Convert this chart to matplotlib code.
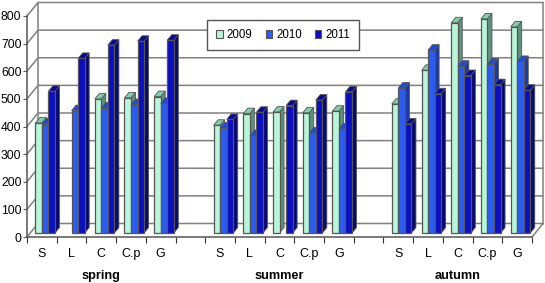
import matplotlib
matplotlib.use('Agg')
import matplotlib.pyplot as plt
from matplotlib.patches import Patch, Polygon

plt.rcParams['font.family'] = ['Liberation Sans', 'DejaVu Sans']

seasons = ['spring', 'summer', 'autumn']
sites = ['S', 'L', 'C', 'C.p', 'G']
years = ['2009', '2010', '2011']
yticks = [0, 100, 200, 300, 400, 500, 600, 700, 800]

# 0 means no bar in the original
spring_2009 = [398, 0, 485, 489, 494]
spring_2010 = [395, 443, 453, 465, 469]
spring_2011 = [513, 632, 680, 694, 698]
summer_2009 = [390, 432, 438, 435, 441]
summer_2010 = [380, 353, 0, 362, 377]
summer_2011 = [411, 437, 461, 481, 511]
autumn_2009 = [467, 589, 761, 775, 746]
autumn_2010 = [525, 662, 604, 612, 621]
autumn_2011 = [395, 504, 570, 537, 517]

W, H = 545, 283
X0, X1, Y0, Y8 = 27, 532, 237, 16   # front plane of the axes, in pixels
SLOT = (X1 - X0) / 17.0
UNIT = (Y0 - Y8) / 800.0

FRONT = ['#b9f5d9', '#2a5cf5', '#0a0fc4']
TOP = ['#7fcdaa', '#1f49d8', '#070b92']
SIDE = ['#5f917e', '#1a3aa8', '#060a6e']
EDGE = '#555555'
GRID = '#808080'

fig = plt.figure(figsize=(W / 100, H / 100), dpi=100)
ax = fig.add_axes([X0 / W, (H - Y0) / H, (X1 - X0) / W, (Y0 - Y8) / H])
ax.set_xlim(0, 17)
ax.set_ylim(0, 800)
ax.patch.set_visible(False)


def px_x(p):
    return p / SLOT


def px_y(p):
    return p / UNIT


# walls
wall_dx, wall_dy = px_x(11), px_y(13.5)
for v in yticks:
    ax.plot([0, wall_dx, 17 + wall_dx], [v, v + wall_dy, v + wall_dy],
            color=GRID, lw=1.1, clip_on=False, zorder=1)
ax.plot([wall_dx, wall_dx], [wall_dy, 800 + wall_dy], color=GRID, lw=1.1,
        clip_on=False, zorder=1)
ax.plot([17 + wall_dx, 17 + wall_dx], [wall_dy, 800 + wall_dy], color=GRID,
        lw=1.1, clip_on=False, zorder=1)
ax.plot([17, 17 + wall_dx], [0, wall_dy], color=GRID, lw=1.1, clip_on=False,
        zorder=1)

# bars
bar_w = px_x(6.55)
base = px_y(4)
shift = px_x(3.3)
dx, dy = px_x(4.5), px_y(5.5)
table = [[spring_2009, spring_2010, spring_2011],
         [summer_2009, summer_2010, summer_2011],
         [autumn_2009, autumn_2010, autumn_2011]]

z = 3
label_pos = []
for s, group in enumerate(table):
    start = s * 6
    for i in range(len(sites)):
        centre = start + i + 0.5
        label_pos.append(centre)
        for k in range(3):
            v = group[k][i]
            if v == 0:
                continue
            left = centre + shift + (k - 1.5) * bar_w
            right = left + bar_w
            top = base + v
            ax.bar(left, v, bar_w, bottom=base, align='edge', color=FRONT[k],
                   edgecolor=EDGE, lw=0.9, zorder=z + 2)
            ax.add_patch(Polygon([(right, base), (right + dx, base + dy),
                                  (right + dx, top + dy), (right, top)],
                                 fc=SIDE[k], ec=EDGE, lw=0.6, zorder=z,
                                 clip_on=False))
            ax.add_patch(Polygon([(left, top), (left + dx, top + dy),
                                  (right + dx, top + dy), (right, top)],
                                 fc=TOP[k], ec=EDGE, lw=0.6, zorder=z + 1,
                                 clip_on=False))
            z += 3

# axes
for name in ['top', 'right']:
    ax.spines[name].set_visible(False)
for name in ['left', 'bottom']:
    ax.spines[name].set_color('#555555')
    ax.spines[name].set_linewidth(1.1)
ax.set_yticks(yticks)
ax.set_xticks(range(18))
ax.set_xticklabels([])
ax.tick_params(axis='x', which='major', direction='out', length=4,
               color='#333333', width=0.8)
ax.tick_params(axis='y', which='major', direction='out', length=3,
               color='#555555', width=0.8, labelsize=8.8, pad=1)
ax.set_xticks(label_pos, minor=True)
ax.set_xticklabels(sites * 3, minor=True, fontsize=9)
ax.tick_params(axis='x', which='minor', length=0, pad=8)

for s, name in enumerate(seasons):
    ax.text(s * 6 + 2.5, px_y(Y0 - 276), name, ha='center', va='center',
            fontsize=9.2, fontweight='bold')

handles = [Patch(fc=FRONT[k], ec=EDGE, lw=0.8) for k in range(3)]
leg = ax.legend(handles, years, loc='upper left', ncol=3, fontsize=8.3,
                bbox_to_anchor=((207 - X0) / (X1 - X0), (Y0 - 20) / (Y0 - Y8)),
                frameon=True, fancybox=False, framealpha=1, edgecolor='#555555',
                handlelength=0.55, handleheight=0.7, handletextpad=0.35,
                columnspacing=1.15, borderpad=0.8, borderaxespad=0)
leg.set_zorder(z + 10)
leg.get_frame().set_linewidth(1.0)

fig.savefig('out.png', dpi=100)
